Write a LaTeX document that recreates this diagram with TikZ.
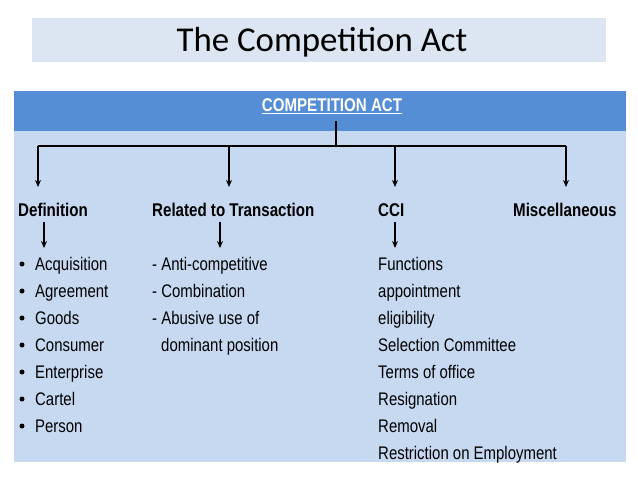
\documentclass[tikz,border=0pt]{standalone}
\usepackage{fontspec}
\setmainfont{Liberation Sans}[FakeStretch=0.82]
\newfontfamily\calib{Carlito}
\usetikzlibrary{arrows.meta}
\definecolor{panel}{HTML}{C6D9F1}
\definecolor{band}{HTML}{558ED5}
\definecolor{tbar}{HTML}{DCE6F2}
\tikzset{
  conn/.style={line width=1.6pt},
  arr/.style={line width=1.2pt,-{Stealth[length=7pt,width=6pt]}},
  head/.style={font=\fontsize{18.5}{18.5}\selectfont\bfseries,anchor=base west,inner sep=0},
  item/.style={font=\fontsize{18.3}{18.3}\selectfont,anchor=base west,inner sep=0},
}
\begin{document}
\begin{tikzpicture}[x=1bp,y=-1bp]
\useasboundingbox (0,0) rectangle (638,478);
\fill[white] (0,0) rectangle (638,478);
\fill[tbar] (32,18) rectangle (606,62);
\node[font=\calib\fontsize{35}{35}\selectfont] (title) at (322,42) {The Competition Act};
\fill[panel] (14,91) rectangle (626,462);
\fill[band] (14,91) rectangle (626,131);
\node[font=\fontsize{18.5}{18.5}\selectfont\bfseries,text=white] (root) at (332,106) {\underline{COMPETITION ACT}};
\coordinate (top) at (336,121);
\coordinate (mid) at (336,146);
\coordinate (l) at (38,146);
\coordinate (r) at (566,146);
\draw[conn] (top) -- (mid);
\draw[conn] (l) -- (r);
\coordinate (a1) at (38,187); \coordinate (a2) at (229,187);
\coordinate (a3) at (395,187); \coordinate (a4) at (566,187);
\draw[arr] (l) -- (a1);
\draw[arr] (229,146) -- (a2);
\draw[arr] (395,146) -- (a3);
\draw[arr] (r) -- (a4);
\node[head] (h1) at (18,217) {Definition};
\node[head] (h2) at (152,217) {Related to Transaction};
\node[head] (h3) at (378,217) {CCI};
\node[head] (h4) at (513,217) {Miscellaneous};
\coordinate (s1) at (44,248); \coordinate (s2) at (220,248); \coordinate (s3) at (395,248);
\draw[arr] (44,222) -- (s1);
\draw[arr] (220,222) -- (s2);
\draw[arr] (395,222) -- (s3);
\foreach \t [count=\i] in {Acquisition,Agreement,Goods,Consumer,Enterprise,Cartel,Person}{
  \fill (22,{264+27*(\i-1)}) circle (2.5);
  \node[item] (d\i) at (35,{270+27*(\i-1)}) {\t};
}
\node[item] (r1) at (152,270) {- Anti-competitive};
\node[item] (r2) at (152,297) {- Combination};
\node[item] (r3) at (152,324) {- Abusive use of};
\node[item] (r4) at (161,351) {dominant position};
\foreach \t [count=\i] in {Functions,appointment,eligibility,Selection Committee,Terms of office,Resignation,Removal,Restriction on Employment}{
  \node[item] (c\i) at (378,{270+27*(\i-1)}) {\t};
}
\end{tikzpicture}
\end{document}
